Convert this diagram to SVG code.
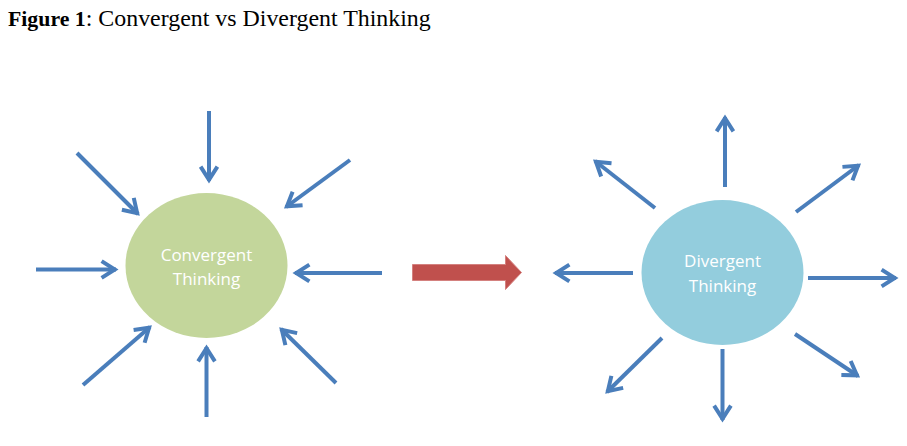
<svg xmlns="http://www.w3.org/2000/svg" width="907" height="446" viewBox="0 0 907 446">
<style>
.title{font-family:"Liberation Serif","Times New Roman",serif;font-size:23.9px;fill:#000}
.lbl{font-family:"Open Sans","Noto Sans",sans-serif;font-size:17px;fill:#fff;text-anchor:middle}
.arr{stroke:#4A7EBB;stroke-width:4;fill:none;marker-end:url(#ah)}
</style>
<defs>
<marker id="ah" viewBox="-5 -3 6 6" markerWidth="6" markerHeight="6" refX="0" refY="0" orient="auto" markerUnits="strokeWidth">
<path d="M-3.6,-2.1 L-0.3,0 L-3.6,2.1" fill="none" stroke="#4A7EBB" stroke-width="1" stroke-linejoin="miter"/>
</marker>
</defs>
<rect width="907" height="446" fill="#fff"/>
<text class="title" x="8" y="26"><tspan font-weight="bold" font-size="21.8px">Figure 1</tspan>: Convergent vs Divergent Thinking</text>
<g id="convergent">
<ellipse cx="206.5" cy="265.5" rx="81" ry="72.5" fill="#C3D69B"/>
<text class="lbl" x="206.5" y="261">Convergent</text>
<text class="lbl" x="206.5" y="285">Thinking</text>
</g>
<g id="divergent">
<ellipse cx="722.5" cy="272.5" rx="81" ry="72.5" fill="#93CDDD"/>
<text class="lbl" x="722.5" y="267">Divergent</text>
<text class="lbl" x="722.5" y="292">Thinking</text>
</g>
<g id="transition">
<polygon points="412.5,264.5 505.5,264.5 505.5,255.5 521.5,272.5 505.5,289.5 505.5,280.5 412.5,280.5" fill="#C0504D" stroke="#D4817F" stroke-width="1"/>
</g>
<g id="connectors">
<line class="arr" x1="209" y1="111" x2="209" y2="181"/>
<line class="arr" x1="77" y1="153" x2="138" y2="214"/>
<line class="arr" x1="350" y1="160" x2="286" y2="207"/>
<line class="arr" x1="36" y1="269.5" x2="116" y2="269.5"/>
<line class="arr" x1="382" y1="273" x2="295" y2="273"/>
<line class="arr" x1="83" y1="385" x2="150" y2="327"/>
<line class="arr" x1="206.5" y1="417" x2="206.5" y2="347"/>
<line class="arr" x1="336" y1="383" x2="281" y2="329"/>
<line class="arr" x1="725" y1="187" x2="725" y2="117"/>
<line class="arr" x1="655" y1="208" x2="595" y2="161"/>
<line class="arr" x1="796" y1="212" x2="859" y2="165"/>
<line class="arr" x1="633" y1="273" x2="555" y2="273"/>
<line class="arr" x1="808" y1="278" x2="896" y2="278"/>
<line class="arr" x1="662" y1="338" x2="607" y2="392"/>
<line class="arr" x1="722.5" y1="349" x2="722.5" y2="420"/>
<line class="arr" x1="795" y1="334" x2="858" y2="376"/>
</g>
</svg>
